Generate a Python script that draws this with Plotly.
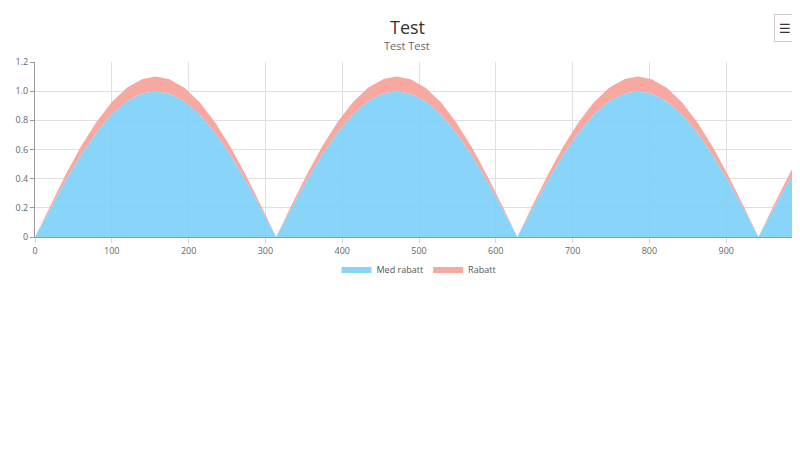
import plotly.graph_objects as go

x_vals = [0,20,40,60,80,100,120,140,157,175,195,215,235,255,275,295,314,
          334,354,374,394,414,434,454,471,489,509,529,549,569,589,609,628,
          648,668,688,708,728,748,768,785,803,823,843,863,883,903,923,942,
          962,982,1000]
med_rabatt = [0,.199,.389,.565,.717,.841,.932,.985,1.0,.984,.929,.837,.711,.557,.381,.190,0,
              .199,.389,.565,.717,.841,.932,.985,1.0,.984,.929,.837,.711,.557,.381,.190,0,
              .199,.389,.565,.717,.841,.932,.985,1.0,.984,.929,.837,.711,.557,.381,.190,0,
              .199,.389,.548]
rabatt = [0,.020,.039,.057,.072,.084,.093,.099,.100,.098,.093,.084,.071,.056,.038,.019,0,
          .020,.039,.057,.072,.084,.093,.099,.100,.098,.093,.084,.071,.056,.038,.019,0,
          .020,.039,.057,.072,.084,.093,.099,.100,.098,.093,.084,.071,.056,.038,.019,0,
          .020,.039,.055]
y_ticks = [0, 0.2, 0.4, 0.6, 0.8, 1.0, 1.2]
y_labels = ["0", "0.2", "0.4", "0.6", "0.8", "1.0", "1.2"]

fig = go.Figure()
fig.add_trace(go.Scatter(x=x_vals, y=med_rabatt, name="Med rabatt", stackgroup="s",
                         mode="lines", line=dict(width=0, color="#7cd0f8"),
                         fillcolor="rgba(124,208,248,0.9)"))
fig.add_trace(go.Scatter(x=x_vals, y=rabatt, name="Rabatt", stackgroup="s",
                         mode="lines", line=dict(width=0, color="#f7a39b"),
                         fillcolor="rgba(247,163,155,0.95)"))
fig.update_layout(
    width=800, height=450, paper_bgcolor="white", plot_bgcolor="white",
    margin=dict(l=27, r=5, t=54, b=221, autoexpand=False),
    font=dict(family="Open Sans", color="#666", size=9),
    xaxis=dict(range=[0, 1000], dtick=100, showgrid=True, gridcolor="#e0e0e0",
               showline=True, linecolor="#999", ticks="outside", tickcolor="#ccd6eb",
               ticklen=5, zeroline=False),
    yaxis=dict(range=[0, 1.2], tickvals=y_ticks, ticktext=y_labels, gridcolor="#e0e0e0",
               showline=True, linecolor="#999", zeroline=False, ticks="outside",
               tickcolor="#999", ticklen=4),
    legend=dict(orientation="h", x=0.5, xanchor="center", y=-0.1, yanchor="top",
                traceorder="normal", font=dict(size=9, color="#555")),
    annotations=[
        dict(text="Test", xref="paper", yref="paper", x=0.485, y=1.2, xanchor="center",
             yanchor="middle", showarrow=False, font=dict(size=18, color="#333")),
        dict(text="Test Test", xref="paper", yref="paper", x=0.485, y=1.097, xanchor="center",
             yanchor="middle", showarrow=False, font=dict(size=11, color="#666")),
        dict(text="☰", xref="paper", yref="paper", x=0.991, y=1.195,
             xanchor="right", yanchor="middle", showarrow=False,
             font=dict(size=13, color="#333"), bordercolor="#ccc",
             borderwidth=1, borderpad=4, bgcolor="white")]
)
fig.write_html("out.html")
